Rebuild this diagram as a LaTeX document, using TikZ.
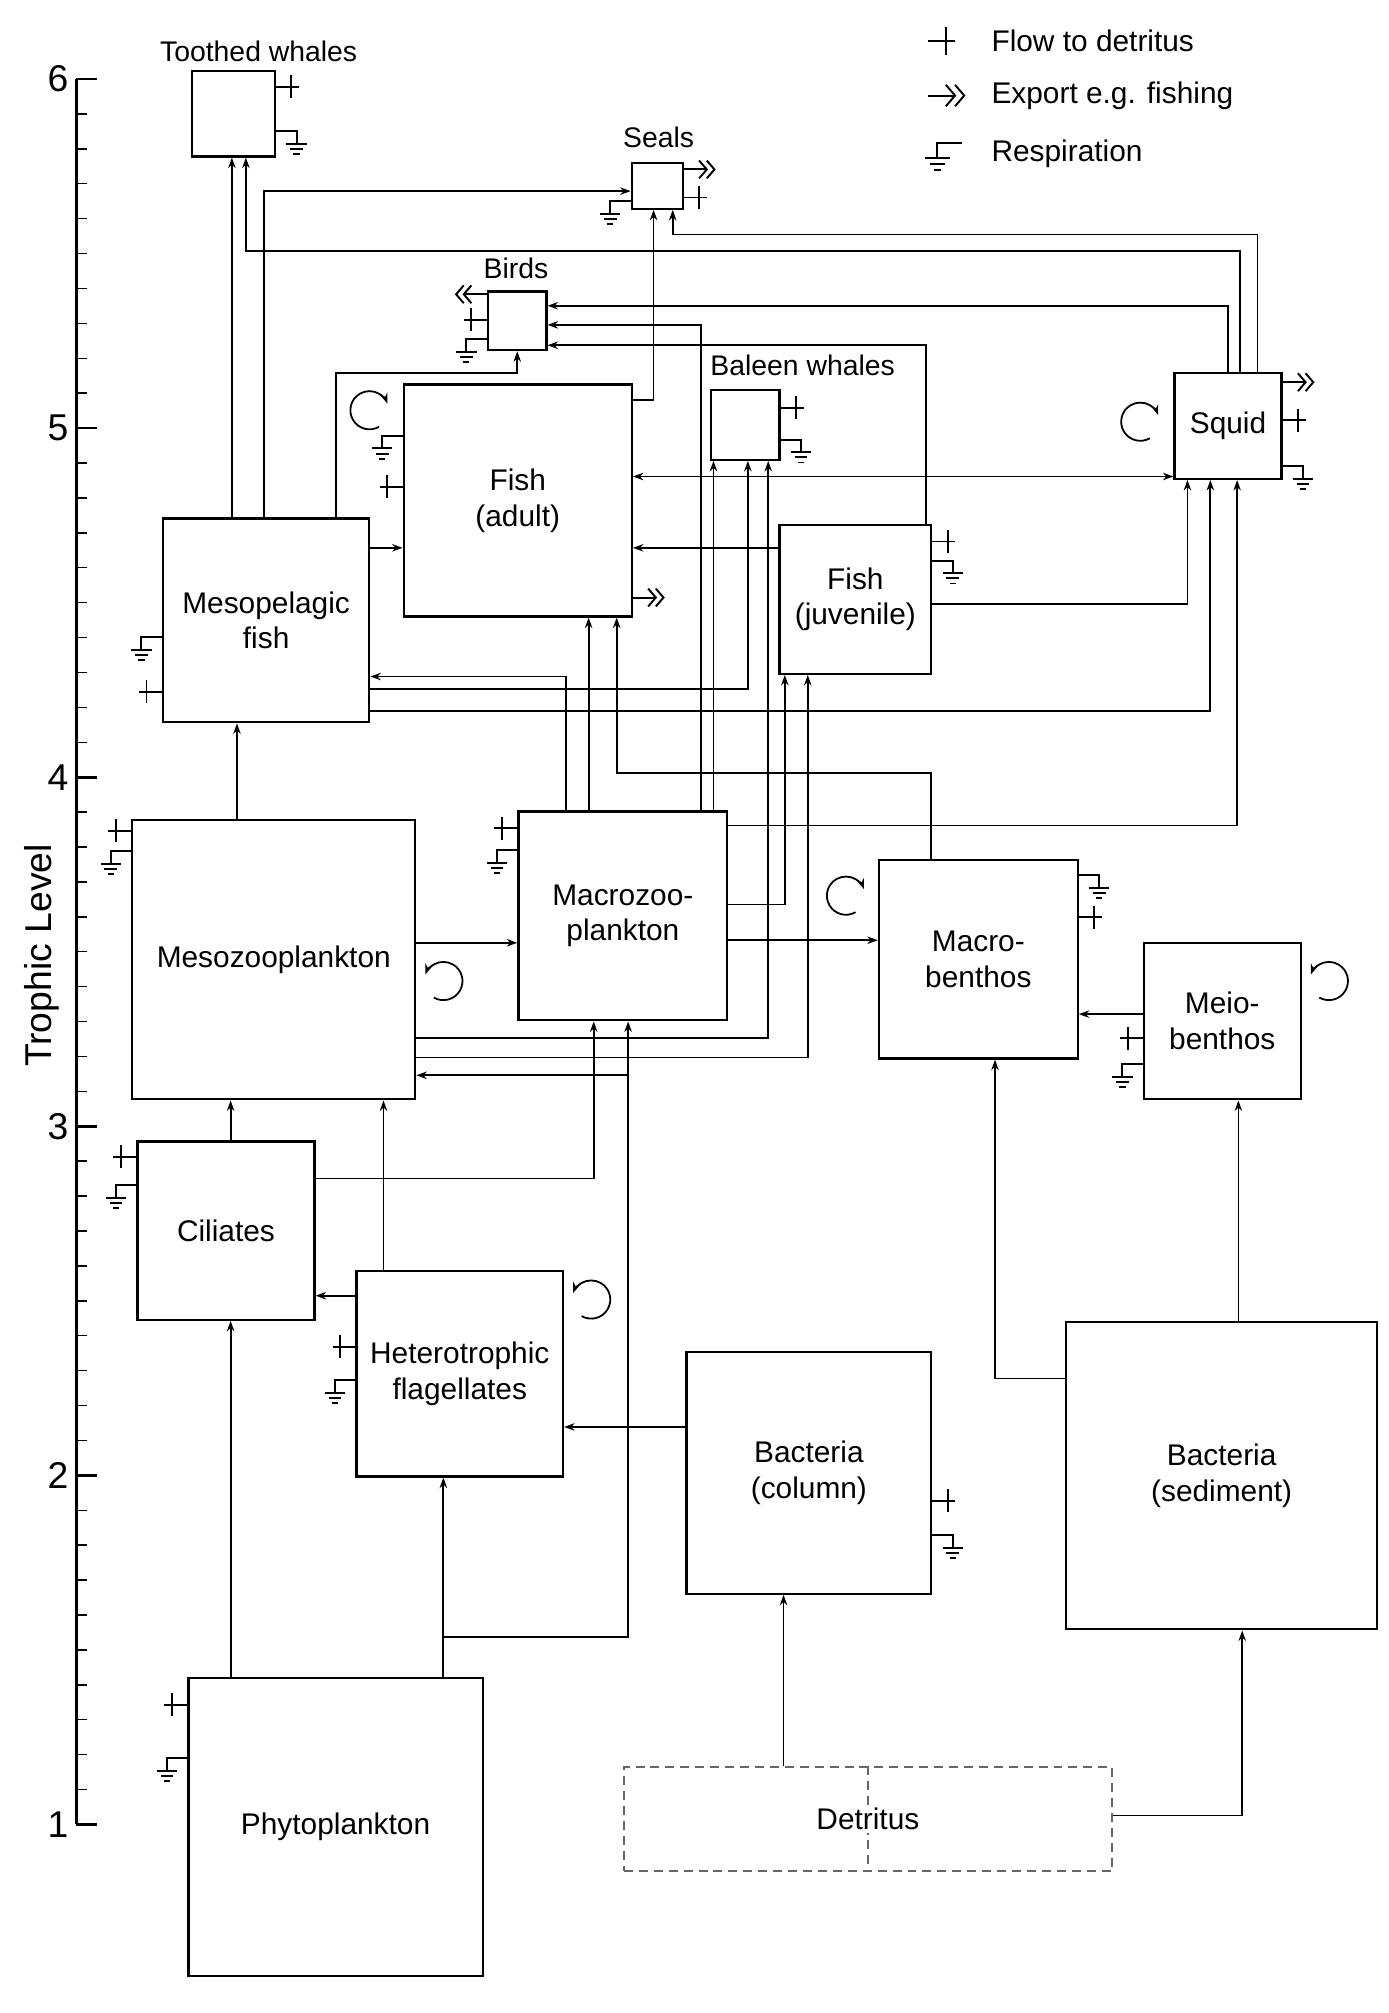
\documentclass[tikz,border=0pt]{standalone}
\usepackage{fontspec}
\setmainfont{Liberation Sans}
\usetikzlibrary{arrows.meta}
\tikzset{
	box/.style = {draw, line width=1.5pt, align=center, font=\fontsize{20}{24}\selectfont, inner sep=0pt, anchor=north west},
	lbl/.style = {font=\fontsize{19}{23}\selectfont, inner sep=0pt},
	ar/.style = {line width=1.2pt, -{Stealth[length=7pt,width=5pt]}},
	sym/.style = {line width=1.3pt},
	todet/.pic = {\draw[sym] (0,0) -- (18,0); \draw[sym] (12,-9) -- (12,9);},
	resp/.pic = {\draw[sym] (0,0) -- (16,0) -- (16,10);
		\draw[sym] (8,10) -- (24,10); \draw[sym] (11,14) -- (21,14); \draw[sym] (13.5,18) -- (18.5,18);},
	export/.pic = {\draw[sym] (0,0) -- (18,0);
		\draw[sym] (12,-7) -- (18,0) -- (12,7); \draw[sym] (18,-7) -- (24,0) -- (18,7);},
	selfloop/.pic = {\draw[line width=1.2pt, -{Stealth[length=7pt,width=5pt]}] (60:15) arc[start angle=60, end angle=340, radius=15];}
}
\newcommand{\bx}[6]{\node[box, minimum width={(#4-#2)*0.03cm}, minimum height={(#5-#3)*0.03cm}, text width={(#4-#2)*0.03cm}] (#1) at (#2,#3) {#6};}
\begin{document}
\begin{tikzpicture}[x=0.03cm, y=-0.03cm]
\useasboundingbox (0,0) rectangle (1090,1580);

% trophic level axis
\draw[line width=1.8pt] (60,62) -- (60,1432);
\foreach \i in {0,...,50} \draw[line width=1pt] (60,62+27.4*\i) -- (68,62+27.4*\i);
\foreach \l/\i in {6/0,5/1,4/2,3/3,2/4,1/5} {
	\draw[line width=1.8pt] (60,62+274*\i) -- (76,62+274*\i);
	\node[font=\fontsize{25}{30}\selectfont, anchor=east, inner sep=0pt] (lv\l) at (54,62+274*\i) {\l};
}
\node[font=\fontsize{25}{30}\selectfont, rotate=90, inner sep=0pt] (tl) at (33,750) {Trophic Level};

% legend
\pic[scale=1.2] at (728,32) {todet};
\node[lbl, anchor=west, font=\fontsize{20}{24}\selectfont] (lg1) at (778,32) {Flow to detritus};
\pic[scale=1.2] at (728,75) {export};
\node[lbl, anchor=west, font=\fontsize{20}{24}\selectfont] (lg2) at (778,75) {Export e.g. fishing};
\pic[xscale=-1.2, yscale=1.2] at (755,112) {resp};
\node[lbl, anchor=west, font=\fontsize{20}{24}\selectfont] (lg3) at (778,121) {Respiration};

% boxes
\bx{tw}{150}{55}{215}{122}{}
\bx{seal}{495}{127}{535}{163}{}
\bx{bird}{382}{228}{428}{274}{}
\bx{bal}{557}{305}{611}{360}{}
\bx{sq}{921}{292}{1005}{375}{Squid}
\bx{fa}{316}{301}{495}{483}{Fish\\(adult)}
\bx{fj}{611}{411}{730}{528}{Fish\\(juvenile)}
\bx{mp}{127}{406}{289}{566}{Mesopelagic\\fish}
\bx{mz}{103}{643}{325}{862}{Mesozooplankton}
\bx{mc}{406}{636}{570}{800}{Macrozoo-\\plankton}
\bx{mb}{689}{674}{845}{830}{Macro-\\benthos}
\bx{mei}{897}{739}{1020}{862}{Meio-\\benthos}
\bx{cil}{107}{895}{246}{1035}{Ciliates}
\bx{hf}{279}{997}{441}{1158}{Heterotrophic\\flagellates}
\bx{bcol}{538}{1060}{730}{1250}{Bacteria\\(column)}
\bx{bsed}{836}{1037}{1080}{1278}{Bacteria\\(sediment)}
\bx{phy}{147}{1316}{378}{1550}{Phytoplankton}
\node[box, draw=black!60, line width=1.2pt, dash pattern=on 6pt off 4pt, minimum width={383*0.03cm}, minimum height={82*0.03cm}] (det) at (489,1386) {};
\draw[black!60, line width=1.2pt, dash pattern=on 6pt off 4pt] (det.north) -- (det.south);
\node[lbl, fill=white, inner sep=2pt, font=\fontsize{20}{24}\selectfont] (dett) at (det.center) {Detritus};

% box labels
\node[lbl] (twl) at (203,40) {Toothed whales};
\node[lbl] (sel) at (517,108) {Seals};
\node[lbl] (bil) at (405,211) {Birds};
\node[lbl] (bal-l) at (630,287) {Baleen whales};

% flows to detritus, respiration, export
\pic at (tw.east |- 0,68) {todet};   \pic at (tw.east |- 0,103) {resp};
\pic at (seal.east |- 0,133) {export}; \pic at (seal.east |- 0,155) {todet}; \pic[xscale=-1] at (seal.west |- 0,158) {resp};
\pic[xscale=-1] at (bird.west |- 0,231) {export}; \pic[xscale=-1] at (bird.west |- 0,251) {todet}; \pic[xscale=-1] at (bird.west |- 0,266) {resp};
\pic at (bal.east |- 0,320) {todet};  \pic at (bal.east |- 0,345) {resp};
\pic at (sq.east |- 0,300) {export};  \pic at (sq.east |- 0,330) {todet}; \pic at (sq.east |- 0,366) {resp};
\pic[xscale=-1] at (fa.west |- 0,342) {resp}; \pic[xscale=-1] at (fa.west |- 0,382) {todet}; \pic at (fa.east |- 0,469) {export};
\pic at (fj.east |- 0,425) {todet};   \pic at (fj.east |- 0,440) {resp};
\pic[xscale=-1] at (mp.west |- 0,500) {resp}; \pic[xscale=-1] at (mp.west |- 0,543) {todet};
\pic[xscale=-1] at (mz.west |- 0,652) {todet}; \pic[xscale=-1] at (mz.west |- 0,668) {resp};
\pic[xscale=-1] at (mc.west |- 0,650) {todet}; \pic[xscale=-1] at (mc.west |- 0,667) {resp};
\pic at (mb.east |- 0,687) {resp};    \pic at (mb.east |- 0,720) {todet};
\pic[xscale=-1] at (mei.west |- 0,815) {todet}; \pic[xscale=-1] at (mei.west |- 0,835) {resp};
\pic[xscale=-1] at (cil.west |- 0,908) {todet}; \pic[xscale=-1] at (cil.west |- 0,930) {resp};
\pic[xscale=-1] at (hf.west |- 0,1057) {todet}; \pic[xscale=-1] at (hf.west |- 0,1083) {resp};
\pic at (bcol.east |- 0,1178) {todet}; \pic at (bcol.east |- 0,1205) {resp};
\pic[xscale=-1] at (phy.west |- 0,1338) {todet}; \pic[xscale=-1] at (phy.west |- 0,1380) {resp};

% self loops
\pic at (290,322) {selfloop};
\pic at (895,331) {selfloop};
\pic[xscale=-1] at (348,770) {selfloop};
\pic at (664,703) {selfloop};
\pic[xscale=-1] at (1043,770) {selfloop};
\pic[xscale=-1] at (464,1020) {selfloop};

% feeding flows
\draw[ar] (phy.north -| 181,0) -- (cil.south -| 181,0);
\draw[ar] (phy.north -| 348,0) -- (hf.south -| 348,0);
\draw[ar] (phy.north -| 348,0) |- (493,1285) -- (mc.south -| 493,0);
\draw[ar] (493,844) -- (mz.east |- 0,844);
\draw[ar] (hf.west |- 0,1017) -- (cil.east |- 0,1017);
\draw[ar] (hf.north -| 301,0) -- (mz.south -| 301,0);
\draw[ar] (cil.north -| 181,0) -- (mz.south -| 181,0);
\draw[ar] (cil.east |- 0,925) -| (mc.south -| 466,0);
\draw[ar] (bcol.west |- 0,1120) -- (hf.east |- 0,1120);
\draw[ar] (det.north -| 615,0) -- (bcol.south -| 615,0);
\draw[ar] (det.east |- 0,1425) -| (bsed.south -| 975,0);
\draw[ar] (bsed.north -| 972,0) -- (mei.south -| 972,0);
\draw[ar] (bsed.west |- 0,1082) -| (mb.south -| 781,0);
\draw[ar] (mei.west |- 0,796) -- (mb.east |- 0,796);
\draw[ar] (mc.east |- 0,738) -- (mb.west |- 0,738);
\draw[ar] (mz.east |- 0,740) -- (mc.west |- 0,740);
\draw[ar] (mz.north -| 186,0) -- (mp.south -| 186,0);
\draw[ar] (mz.east |- 0,815) -| (bal.south -| 603,0);
\draw[ar] (mz.east |- 0,830) -| (fj.south -| 634,0);
\draw[ar] (mp.north -| 182,0) -- (tw.south -| 182,0);
\draw[ar] (mp.north -| 207,0) |- (seal.west |- 0,150);
\draw[ar] (mp.north -| 264,0) |- (406,293) -- (bird.south -| 406,0);
\draw[ar] (mp.east |- 0,430) -- (fa.west |- 0,430);
\draw[ar] (mp.east |- 0,541) -| (bal.south -| 587,0);
\draw[ar] (mp.east |- 0,558) -| (sq.south -| 950,0);
\draw[ar] (fa.east |- 0,314) -| (seal.south -| 513,0);
\draw[ar, {Stealth[length=7pt,width=5pt]}-{Stealth[length=7pt,width=5pt]}] (fa.east |- 0,374) -- (sq.west |- 0,374);
\draw[ar] (fj.west |- 0,430) -- (fa.east |- 0,430);
\draw[ar] (fj.east |- 0,474) -| (sq.south -| 932,0);
\draw[ar] (fj.north -| 727,0) |- (bird.east |- 0,271);
\draw[ar] (sq.north -| 973,0) |- (193,197) -- (tw.south -| 193,0);
\draw[ar] (sq.north -| 987,0) |- (528,184) -- (seal.south -| 528,0);
\draw[ar] (sq.north -| 964,0) |- (bird.east |- 0,240);
\draw[ar] (mc.north -| 550,0) |- (bird.east |- 0,255);
\draw[ar] (mc.north -| 560,0) -- (bal.south -| 560,0);
\draw[ar] (mc.north -| 462,0) -- (fa.south -| 462,0);
\draw[ar] (mc.north -| 444,0) |- (mp.east |- 0,531);
\draw[ar] (mc.east |- 0,648) -| (sq.south -| 971,0);
\draw[ar] (mc.east |- 0,710) -| (fj.south -| 616,0);
\draw[ar] (mb.north -| 731,0) |- (484,607) -- (fa.south -| 484,0);
\end{tikzpicture}
\end{document}
